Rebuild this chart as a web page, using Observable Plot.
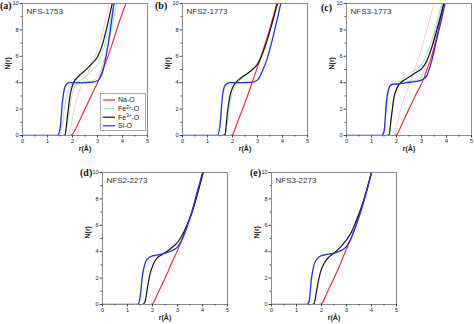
<!DOCTYPE html>
<html><head><meta charset="utf-8">
<script src="https://cdn.jsdelivr.net/npm/d3@7"></script>
<script src="https://cdn.jsdelivr.net/npm/@observablehq/plot@0.6"></script>
<style>
body{margin:0;background:#fff;overflow:hidden;font-family:"Liberation Sans",Arial,sans-serif}
#root{position:relative;width:474px;height:324px;overflow:hidden;background:#fff}
.panel{position:absolute}
.plab{position:absolute;font-family:"Liberation Serif","Times New Roman",serif;font-weight:bold;font-size:10px;color:#111;line-height:1}
.legend{position:absolute}
</style></head><body><div id="root"></div>
<script>
// shared r grid (Å)
const R = [0, 1.4, 1.5, 1.6, 1.7, 1.8, 1.9, 2.0, 2.1, 2.2, 2.3, 2.4, 2.6, 2.8, 3.0, 3.2, 3.4, 3.6, 3.8, 4.0, 4.2, 4.4];

const xTicks = [0, 1, 2, 3, 4, 5];
const xMinor = [0.5, 1.5, 2.5, 3.5, 4.5];
const yTicks = [0, 2, 4, 6, 8, 10];
const yMinor = [1, 3, 5, 7, 9];

const seriesNames = ["Na-O", "Fe2+-O", "Fe3+-O", "Si-O"];
const panelTitles = ["NFS-1753", "NFS2-1773", "NFS3-1773", "NFS2-2273", "NFS3-2273"];
const panelTags = ["(a)", "(b)", "(c)", "(d)", "(e)"];

// (a) NFS-1753
const a_Na      = [0,0,0,0,0,0,0,0.1,0.4,0.8,1.2,1.6,2.4,3.2,4.0,4.9,5.9,7.0,8.2,9.3,10.3,null];
const a_NaFaint = [0,0,0,0,0,0,0.4,1.3,2.3,3.0,3.5,4.0,4.7,5.5,6.5,7.8,9.4,11,null,null,null,null];
const a_Fe2     = [0,0,0,0,0,0.8,2.2,3.2,3.7,4.0,4.15,4.3,4.6,4.95,5.4,6.3,7.7,9.4,11,null,null,null];
const a_Fe3     = [0,0,0,0,0.05,1.5,3.0,3.8,4.2,4.4,4.6,4.75,5.1,5.5,5.95,6.9,8.4,10.1,12,null,null,null];
const a_Si      = [0,0,0.5,2.6,3.7,3.95,4.0,4.0,4.0,4.0,4.0,4.0,4.02,4.05,4.15,4.8,6.6,9.2,12,null,null,null];
const a_SiFaint = [0,0,0.1,1.0,2.3,3.2,3.6,3.8,3.85,3.9,3.95,4.0,4.05,4.15,4.4,5.3,6.7,8.4,10.3,null,null,null];

// (b) NFS2-1773
const b_Na  = [0,0,0,0,0,0,0,0.05,0.5,1.0,1.5,2.0,3.0,4.1,5.2,6.3,7.5,8.8,10.2,null,null,null];
const b_Fe2 = [0,0,0,0,0,1.0,2.4,3.2,3.7,4.0,4.2,4.35,4.65,5.0,5.5,6.4,7.5,8.8,10.2,null,null,null];
const b_Fe3 = [0,0,0,0,0.1,1.8,3.0,3.6,3.95,4.15,4.3,4.45,4.7,5.0,5.4,6.2,7.3,8.6,10.0,11.4,null,null];
const b_Si  = [0,0,0.8,3.0,3.8,3.95,4.0,4.0,4.0,4.0,4.0,4.0,4.02,4.05,4.2,4.9,5.9,7.3,8.9,10.6,null,null];

// (c) NFS3-1773
const c_Na      = [0,0,0,0,0,0,0,0.05,0.35,0.8,1.2,1.6,2.4,3.2,3.9,4.9,6.0,7.4,9.2,11,null,null];
const c_NaFaint = [0,0,0,0,0,0,0,0.6,1.5,2.2,2.8,3.3,4.3,5.4,6.6,7.9,9.3,10.8,null,null,null,null];
const c_Fe2     = [0,0,0,0,0.05,1.4,2.8,3.6,4.0,4.25,4.4,4.55,4.8,5.05,5.35,6.1,7.2,8.5,10.0,11.5,null,null];
const c_Fe3     = [0,0,0,0,0.05,1.5,2.9,3.5,3.85,4.05,4.2,4.3,4.55,4.8,5.05,5.6,6.6,7.9,9.3,10.8,null,null];
const c_Si      = [0,0,0.3,2.6,3.6,3.85,3.9,3.9,3.92,3.95,3.97,4.0,4.05,4.1,4.2,4.5,5.6,7.2,8.8,10.5,null,null];
const c_SiFaint = [0,0,0.2,2.0,3.6,4.05,4.1,4.1,4.1,4.1,4.1,4.12,4.15,4.2,4.5,5.4,6.7,8.2,9.8,11.4,null,null];

// (d) NFS2-2273
const d_Na  = [0,0,0,0,0,0,0,0.05,0.35,0.8,1.2,1.6,2.4,3.3,4.1,5.0,6.0,7.1,8.4,9.8,11.3,null];
const d_Fe3 = [0,0,0,0,0.2,1.3,2.3,2.9,3.3,3.55,3.7,3.8,4.05,4.35,4.7,5.3,6.1,7.1,8.4,9.8,11.3,null];
const d_Si  = [0,0,0.5,2.2,3.1,3.45,3.6,3.68,3.72,3.75,3.8,3.85,3.95,4.1,4.35,5.0,6.0,7.2,8.6,10.0,11.5,null];

// (e) NFS3-2273
const e_Na  = [0,0,0,0,0,0,0,0.05,0.35,0.8,1.2,1.6,2.4,3.3,4.2,5.1,6.1,7.2,8.5,10.0,11.4,null];
const e_Fe3 = [0,0,0,0,0.05,1.0,2.0,2.7,3.1,3.4,3.6,3.75,4.05,4.45,4.9,5.5,6.4,7.4,8.6,10.0,11.4,null];
const e_Si  = [0,0,0.2,2.0,3.0,3.4,3.6,3.7,3.75,3.8,3.82,3.85,3.95,4.1,4.4,5.1,6.1,7.3,8.6,10.0,11.4,null];

// styles
const ST = {
  Na:      {stroke: "#e8323c", strokeWidth: 1.2},
  NaFaint: {stroke: "#f7b3b5", strokeWidth: 0.7},
  Fe2:     {stroke: "#a6eab9", strokeWidth: 1.0},
  Fe3:     {stroke: "#151515", strokeWidth: 1.2},
  Si:      {stroke: "#2b2ee6", strokeWidth: 1.3},
  SiFaint: {stroke: "#a9b0f4", strokeWidth: 0.7}
};

const panels = [
  {left: 0,   top: 0,   tagX: 0,   tagY: 1,   series: [["NaFaint", a_NaFaint], ["SiFaint", a_SiFaint], ["Fe2", a_Fe2], ["Na", a_Na], ["Fe3", a_Fe3], ["Si", a_Si]]},
  {left: 160, top: 0,   tagX: 155, tagY: 1,   series: [["Fe2", b_Fe2], ["Na", b_Na], ["Fe3", b_Fe3], ["Si", b_Si]]},
  {left: 324, top: 0,   tagX: 321, tagY: 3,   series: [["NaFaint", c_NaFaint], ["SiFaint", c_SiFaint], ["Fe2", c_Fe2], ["Na", c_Na], ["Fe3", c_Fe3], ["Si", c_Si]]},
  {left: 80,  top: 169, tagX: 80,  tagY: 168, series: [["Na", d_Na], ["Fe3", d_Fe3], ["Si", d_Si]]},
  {left: 249, top: 169, tagX: 250, tagY: 168, series: [["Na", e_Na], ["Fe3", e_Fe3], ["Si", e_Si]]}
];

const root = document.getElementById("root");
const fmt = d => String(d);

panels.forEach((p, pi) => {
  const lineMarks = p.series.map(([key, vals]) => {
    const rows = [];
    vals.forEach((v, i) => { if (v != null) rows.push({r: R[i], N: v}); });
    return Plot.line(rows, {x: "r", y: "N", curve: "monotone-x", clip: true, ...ST[key]});
  });
  const chart = Plot.plot({
    width: 150, height: 160,
    marginLeft: 22, marginRight: 3, marginTop: 3, marginBottom: 25,
    x: {domain: [0, 5]},
    y: {domain: [0, 10]},
    style: {fontFamily: "'Liberation Sans', Arial, sans-serif", background: "transparent", overflow: "visible"},
    marks: [
      ...lineMarks,
      Plot.frame({stroke: "#808080", strokeWidth: 0.9}),
      Plot.axisX({ticks: xTicks, tickFormat: fmt, tickSize: 2.5, tickPadding: 1.5, fontSize: 5.5, label: null, stroke: "#444", fill: "#222"}),
      Plot.axisX({ticks: xMinor, tickSize: 1.5, text: null, label: null, stroke: "#444"}),
      Plot.axisY({ticks: yTicks, tickFormat: fmt, tickSize: 2.5, tickPadding: 1.5, fontSize: 5.5, label: null, stroke: "#444", fill: "#222"}),
      Plot.axisY({ticks: yMinor, tickSize: 1.5, text: null, label: null, stroke: "#444"}),
      Plot.text([panelTitles[pi]], {frameAnchor: "top-left", dx: 4, dy: 5, fontSize: 8, fontWeight: "normal", fill: "#333", textAnchor: "start", lineAnchor: "top"}),
      Plot.text(["N(r)"], {frameAnchor: "left", rotate: -90, dx: -15, fontSize: 7, fontWeight: "bold", fill: "#222"}),
      Plot.text(["r(Å)"], {frameAnchor: "bottom", dy: 15, fontSize: 7, fontWeight: "bold", fill: "#222"})
    ]
  });
  const div = document.createElement("div");
  div.className = "panel";
  div.style.left = p.left + "px";
  div.style.top = p.top + "px";
  div.appendChild(chart);
  root.appendChild(div);

  const tag = document.createElement("div");
  tag.className = "plab";
  tag.style.left = p.tagX + "px";
  tag.style.top = p.tagY + "px";
  tag.textContent = panelTags[pi];
  root.appendChild(tag);
});

// legend for panel (a)
const legKeys = ["Na", "Fe2", "Fe3", "Si"];
const ns = "http://www.w3.org/2000/svg";
const leg = document.createElementNS(ns, "svg");
leg.setAttribute("width", 46); leg.setAttribute("height", 38);
leg.setAttribute("class", "legend");
leg.style.left = "100px"; leg.style.top = "93px";
leg.style.position = "absolute";
const box = document.createElementNS(ns, "rect");
box.setAttribute("x", 0.5); box.setAttribute("y", 0.5); box.setAttribute("width", 45); box.setAttribute("height", 37);
box.setAttribute("fill", "#fff"); box.setAttribute("stroke", "#9a9a9a"); box.setAttribute("stroke-width", 0.8);
leg.appendChild(box);
seriesNames.forEach((name, i) => {
  const y = 7 + i * 8.6;
  const ln = document.createElementNS(ns, "line");
  ln.setAttribute("x1", 3); ln.setAttribute("x2", 15); ln.setAttribute("y1", y); ln.setAttribute("y2", y);
  ln.setAttribute("stroke", ST[legKeys[i]].stroke); ln.setAttribute("stroke-width", 1.2);
  leg.appendChild(ln);
  const t = document.createElementNS(ns, "text");
  t.setAttribute("x", 18); t.setAttribute("y", y); t.setAttribute("dy", "0.35em");
  t.setAttribute("font-size", 7); t.setAttribute("fill", "#222");
  t.setAttribute("font-family", "'Liberation Sans', Arial, sans-serif");
  const m = name.match(/^Fe(\d\+)(-O)$/);
  if (m) {
    t.appendChild(document.createTextNode("Fe"));
    const sup = document.createElementNS(ns, "tspan");
    sup.setAttribute("font-size", 4.5); sup.setAttribute("dy", "-2.5");
    sup.textContent = m[1];
    t.appendChild(sup);
    const rest = document.createElementNS(ns, "tspan");
    rest.setAttribute("dy", "2.5");
    rest.textContent = m[2];
    t.appendChild(rest);
  } else {
    t.textContent = name;
  }
  leg.appendChild(t);
});
root.appendChild(leg);
</script>
</body></html>
